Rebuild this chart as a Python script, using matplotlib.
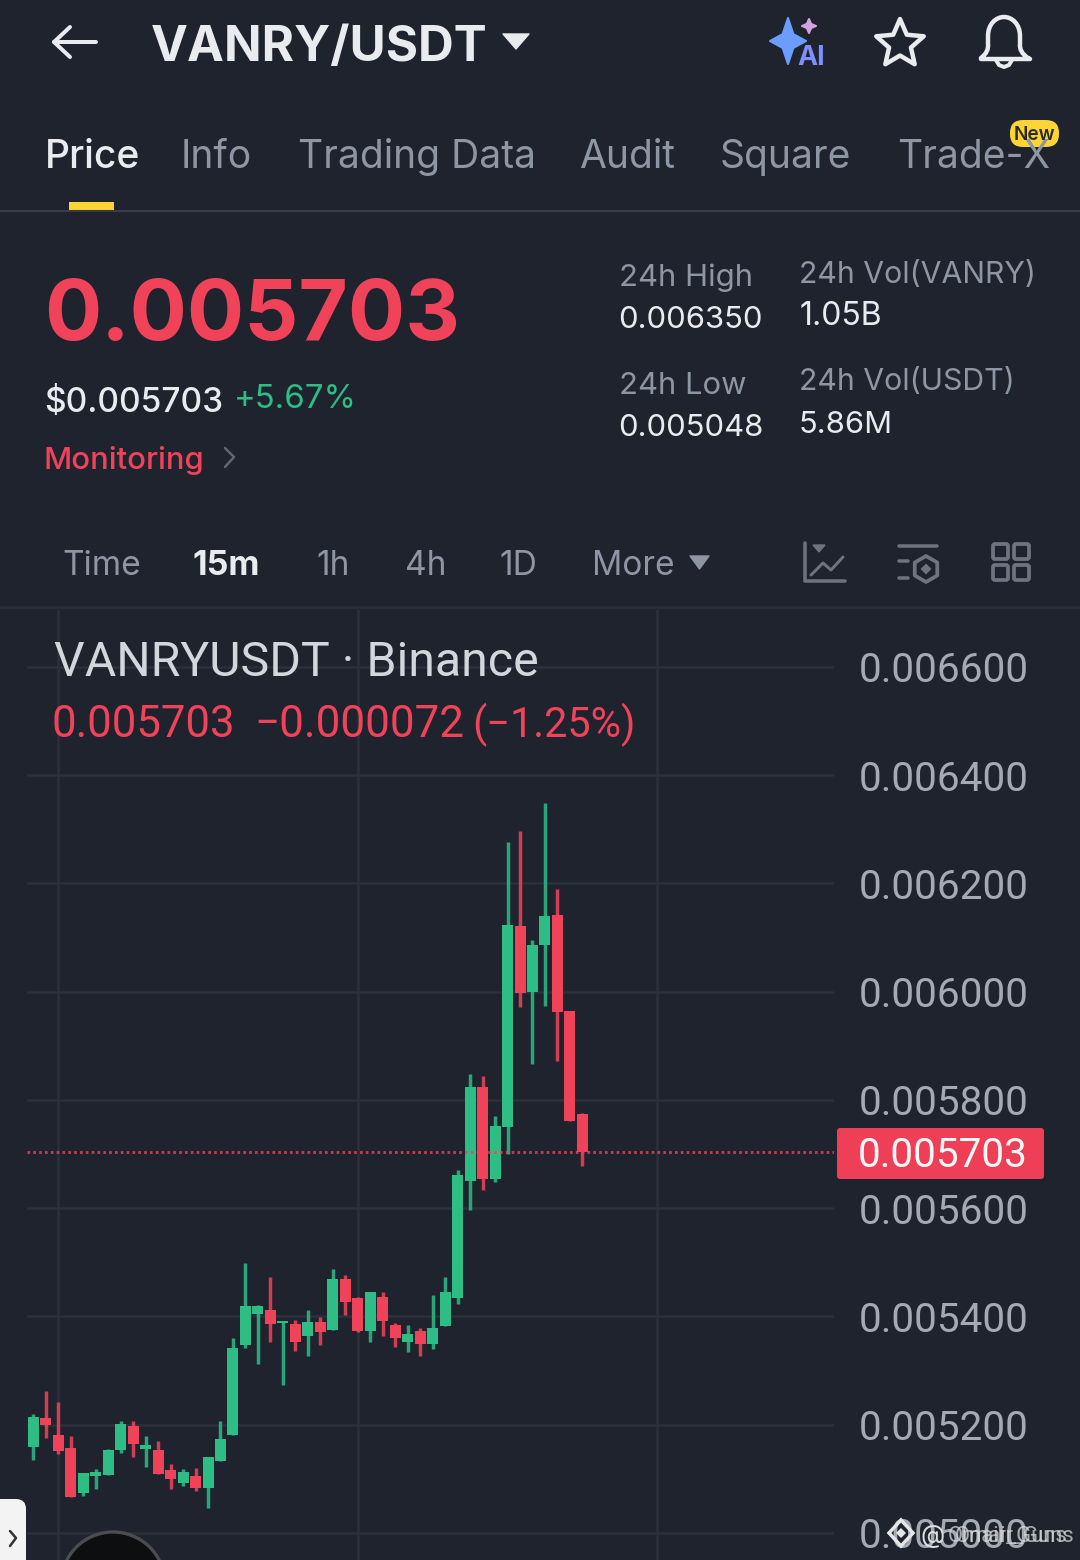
import numpy as np
import matplotlib
matplotlib.use("Agg")
import matplotlib.pyplot as plt
from matplotlib.patches import Polygon, FancyBboxPatch, Circle, PathPatch, Rectangle
from matplotlib.path import Path

opens = [5158, 5212, 5181, 5157, 5073, 5105, 5107, 5153, 5198, 5155, 5153, 5116, 5092, 5105, 5083,
         5133, 5181, 5347, 5405, 5412, 5387, 5386, 5364, 5390, 5375, 5469, 5434, 5373, 5436, 5384,
         5353, 5373, 5349, 5382, 5434, 5651, 5824, 5654, 5750, 6121, 6000, 6086, 6142, 5964, 5774]
highs = [5220, 5262, 5241, 5179, 5111, 5119, 5155, 5206, 5206, 5179, 5170, 5127, 5118, 5120, 5140,
         5207, 5360, 5499, 5421, 5473, 5392, 5394, 5412, 5399, 5488, 5477, 5436, 5445, 5445, 5387,
         5384, 5378, 5440, 5473, 5671, 5848, 5844, 5770, 6277, 6297, 6096, 6349, 6190, 5964, 5776]
lows = [5134, 5176, 5145, 5066, 5069, 5081, 5107, 5148, 5140, 5122, 5109, 5081, 5087, 5078, 5046,
        5133, 5181, 5342, 5312, 5353, 5273, 5336, 5327, 5347, 5375, 5403, 5371, 5353, 5364, 5344,
        5334, 5327, 5340, 5382, 5423, 5597, 5634, 5649, 5700, 5972, 5867, 5974, 5872, 5761, 5678]
closes = [5215, 5200, 5151, 5066, 5111, 5113, 5153, 5202, 5164, 5163, 5109, 5100, 5113, 5083, 5140,
          5174, 5342, 5419, 5419, 5386, 5392, 5352, 5390, 5371, 5469, 5427, 5373, 5445, 5392, 5361,
          5368, 5349, 5378, 5445, 5661, 5824, 5654, 5752, 6123, 5998, 6086, 6140, 5963, 5761, 5703]

price_ticks = [0.0066, 0.0064, 0.0062, 0.0060, 0.0058, 0.0056, 0.0054, 0.0052, 0.0050]
time_grid = [2, 26, 50]
last_price = 0.005703

tabs = ["Price", "Info", "Trading Data", "Audit", "Square", "Trade-X"]
tab_x = [45, 181, 298, 579, 720, 897]
intervals = ["Time", "15m", "1h", "4h", "1D", "More"]
interval_x = [62, 193, 316, 405, 499, 592]

BG = "#1e232e"
GRID = "#2b303b"
GREEN = "#2ebd85"
RED = "#f0435a"
GREY = "#8f96a3"
YELLOW = "#fcd535"
LIGHT = "#e9ebee"

plt.rcParams["font.family"] = ["Inter", "Roboto", "DejaVu Sans"]

fig = plt.figure(figsize=(10.8, 15.6), dpi=100, facecolor=BG)

# chart area, pixels 27..834 across and 610..1560 down
ax = fig.add_axes([27 / 1080, 0, (834 - 27) / 1080, (1560 - 610) / 1560], facecolor="none")
ax.set_xlim(-0.505, 64.16)
ax.set_ylim(0.00495, 0.006705)
for s in ax.spines.values():
    s.set_visible(False)
ax.set_xticks(time_grid)
ax.set_xticklabels([])
ax.tick_params(axis="x", length=0)
ax.yaxis.tick_right()
ax.set_yticks(price_ticks)
ax.set_yticklabels([f"{p:.6f}" for p in price_ticks], fontsize=29.2, color="#a4aab3", family="Roboto")
ax.tick_params(axis="y", length=0, pad=17.5)
ax.grid(color=GRID, lw=1.8)
ax.set_axisbelow(True)

x = np.arange(len(opens))
o, h, l, c = [np.array(a) / 1e6 for a in (opens, highs, lows, closes)]
colors = [GREEN if cc >= oo else RED for oo, cc in zip(o, c)]
ax.vlines(x, l, h, colors=colors, lw=2.5, alpha=0.85, zorder=3)
ax.bar(x, np.maximum(np.abs(c - o), 3e-6), bottom=np.minimum(o, c), width=0.88, color=colors, zorder=4)
ax.axhline(last_price, color=RED, lw=2.1, ls=(0, (0.9, 1.1)), alpha=0.8, zorder=5)

# everything else is the app screen, drawn in pixel coordinates
ui = fig.add_axes([0, 0, 1, 1], facecolor="none")
ui.set_xlim(0, 1080)
ui.set_ylim(1560, 0)
ui.axis("off")


def txt(px, py, s, size, color=LIGHT, weight="normal", family=None, **kw):
    return ui.text(px, py, s, fontsize=size * 0.72, color=color, weight=weight, va="baseline",
                   family=family or plt.rcParams["font.family"], parse_math=False, **kw)


def stroke(xs, ys, color=LIGHT, w=4):
    ui.plot(xs, ys, color=color, lw=w * 0.72, solid_capstyle="round", solid_joinstyle="round")


def sparkle(cx, cy, rx, ry, color):
    k = 0.3
    verts = [(cx, cy - ry), (cx + rx * k, cy - ry * k), (cx + rx, cy), (cx + rx * k, cy + ry * k),
             (cx, cy + ry), (cx - rx * k, cy + ry * k), (cx - rx, cy), (cx - rx * k, cy - ry * k)]
    ui.add_patch(Polygon(verts, closed=True, fc=color, ec=color, lw=1.5, joinstyle="round"))


# header
stroke([96, 54, 70], [42, 42, 27], LIGHT, 4)
stroke([54, 70], [42, 57], LIGHT, 4)
txt(151, 61, "VANRY/USDT", 49.5, LIGHT, "bold")
ui.add_patch(Polygon([(503, 34), (529, 34), (516, 49)], closed=True, fc=LIGHT, ec=LIGHT, lw=1, joinstyle="round"))

sparkle(788, 41, 18, 23, "#6a9dff")
sparkle(809, 26, 7, 7, "#d3a3e0")
txt(797, 65, "AI", 27, "#7f8ffb", "bold")

ang = np.deg2rad(-90 + 36 * np.arange(10))
rad = np.where(np.arange(10) % 2 == 0, 25, 11.5)
ui.add_patch(Polygon(np.c_[900 + rad * np.cos(ang), 44 + rad * np.sin(ang)], closed=True, fc="none",
                     ec=LIGHT, lw=3.2, joinstyle="round"))

bell = Path([(981, 58), (989, 52), (988, 44), (988, 36), (988, 24), (996, 17), (1004, 17), (1012, 17), (1020, 24),
             (1020, 36), (1020, 44), (1019, 52), (1028, 58), (1030, 59), (981, 59), (981, 58)],
            [Path.MOVETO, Path.CURVE3, Path.CURVE3, Path.LINETO, Path.CURVE4, Path.CURVE4, Path.CURVE4, Path.CURVE4,
             Path.CURVE4, Path.CURVE4, Path.LINETO, Path.CURVE3, Path.CURVE3, Path.LINETO, Path.LINETO, Path.CLOSEPOLY])
ui.add_patch(PathPatch(bell, fc="none", ec=LIGHT, lw=3.2, joinstyle="round"))
ui.plot([996, 999, 1004, 1009, 1012], [60, 65, 67, 65, 60], color=LIGHT, lw=2.9)

# tabs
for i, (label, tx) in enumerate(zip(tabs, tab_x)):
    txt(tx, 168, label, 39, LIGHT if i == 0 else GREY, "medium" if i == 0 else "normal")
ui.add_patch(Rectangle((69, 202), 45, 8, fc=YELLOW, ec="none"))
ui.add_patch(FancyBboxPatch((1010, 120), 49, 27, boxstyle="round,pad=0,rounding_size=13", fc=YELLOW, ec="none"))
txt(1034.5, 140, "New", 19, "#2a2a25", "semibold", ha="center")
ui.plot([0, 1080], [211, 211], color="#363b46", lw=1.5)

# price block
txt(44, 340, "0.005703", 85, RED, "bold")
txt(44, 412, "$0.005703", 33.5, LIGHT, "medium")
txt(234, 408, "+5.67%", 33, GREEN)
txt(44, 469, "Monitoring", 31, RED, "medium")
stroke([225, 234, 225], [448, 457, 467], "#5f6672", 2.5)

txt(619, 286, "24h High", 31, GREY)
txt(618, 328, "0.006350", 31, LIGHT)
txt(619, 394, "24h Low", 31, GREY)
txt(618, 436, "0.005048", 31, LIGHT)
txt(799, 283, "24h Vol(VANRY)", 30.2, GREY)
txt(800, 325, "1.05B", 32, LIGHT)
txt(799, 390, "24h Vol(USDT)", 30.2, GREY)
txt(799, 433, "5.86M", 31, LIGHT)

# interval row
for label, tx in zip(intervals, interval_x):
    sel = label == "15m"
    txt(tx, 575, label, 34 if sel else 33.5, LIGHT if sel else GREY, "bold" if sel else "normal")
ui.add_patch(Polygon([(690, 556), (709, 556), (699.5, 569)], closed=True, fc=GREY, ec=GREY, lw=1, joinstyle="round"))

ICON = "#6d7480"
stroke([805, 805, 845], [543, 581, 581], ICON, 3.5)
ui.add_patch(Polygon([(813, 545), (825, 545), (819, 552)], closed=True, fc=ICON, ec=ICON, lw=1))
stroke([811, 823, 831, 843], [575, 563, 570, 557], ICON, 3)
stroke([899, 937], [546, 546], ICON, 3.5)
stroke([899, 908], [561, 561], ICON, 3.5)
stroke([899, 908], [578, 578], ICON, 3.5)
hang = np.deg2rad(-90 + 60 * np.arange(6))
ui.add_patch(Polygon(np.c_[926 + 13 * np.cos(hang), 569 + 13 * np.sin(hang)], closed=True, fc="none", ec=ICON,
                     lw=2.7, joinstyle="round"))
ui.add_patch(Polygon([(926, 564), (931, 569), (926, 574), (921, 569)], closed=True, fc=ICON, ec=ICON, lw=0.5))
for bx in (993, 1014):
    for by in (544, 565):
        ui.add_patch(FancyBboxPatch((bx, by), 15, 15, boxstyle="round,pad=0,rounding_size=2", fc="none", ec=ICON, lw=2.7))
ui.plot([0, 1080], [607, 607], color="#292e39", lw=2)

# chart legend
txt(54, 676, "VANRYUSDT · Binance", 48.3, "#d3d6da", family="Roboto")
txt(51, 737, "0.005703", 43.8, RED, family="Roboto")
txt(254, 737, "−0.000072", 44, RED, family="Roboto")
txt(472, 737, "(−1.25%)", 41.5, RED, family="Roboto")

# current price tag
ui.add_patch(FancyBboxPatch((837, 1128), 207, 51, boxstyle="round,pad=0,rounding_size=3", fc="#ef3f57", ec="none"))
txt(858, 1167, f"{last_price:.6f}", 40.5, "#f7f7f7", family="Roboto")

# bottom overlays
ui.add_patch(FancyBboxPatch((-20, 1499), 46, 90, boxstyle="round,pad=0,rounding_size=10", fc="#f3f3f4", ec="none"))
stroke([10, 16, 10], [1531, 1538, 1546], "#333333", 2.5)
ui.add_patch(Circle((113, 1584), 52, fc="#0d0e10", ec="#4a4c52", lw=2.4))

ui.add_patch(Polygon([(901, 1520), (913, 1533), (901, 1546), (889, 1533)], closed=True, fc="none", ec="#e6e6e6", lw=2.5))
ui.add_patch(Polygon([(901, 1528), (906, 1533), (901, 1538), (896, 1533)], closed=True, fc="#e6e6e6", ec="none"))
txt(921, 1543, "@", 25, "#dddddd")
txt(948, 1542, "Omair_Guns", 22, "#d8d8d8", family="Roboto", alpha=0.75)
txt(955, 1542, "Omair_Guns", 22, "#d8d8d8", family="Roboto", alpha=0.75)

fig.savefig("out.png", dpi=100, facecolor=BG)
